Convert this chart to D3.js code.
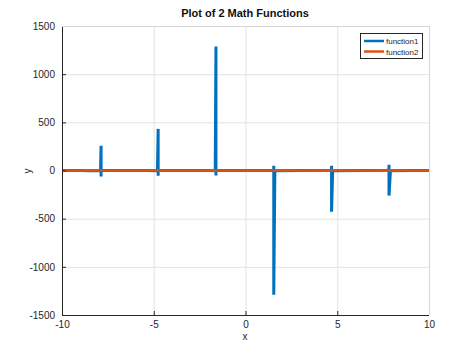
<!DOCTYPE html>
<html><head><meta charset="utf-8">
<script src="https://cdn.jsdelivr.net/npm/d3@7"></script>
<style>body{margin:0;background:#fff;}svg{display:block;font-family:"Liberation Sans",Arial,sans-serif;}</style>
</head><body><svg id="c" width="474" height="355"></svg>
<script>
const title = "Plot of 2 Math Functions";
const seriesNames = ["function1", "function2"];
const xTicks = [-10, -5, 0, 5, 10];
const yTicks = [-1500, -1000, -500, 0, 500, 1000, 1500];
// function1 samples
const x1 = [-10, -9, -8.5, -7.9, -7.87, -7.87, -7.87, -7.8, -6.5, -5.5, -4.8, -4.76, -4.76, -4.76, -4.7, -3, -2, -1.65, -1.61, -1.61, -1.61, -1.55, 0, 1.5, 1.54, 1.54, 1.54, 1.6, 3, 4.6, 4.69, 4.69, 4.69, 4.75, 6.5, 7.7, 7.82, 7.82, 7.82, 7.9, 9, 10];
const y1 = [0.6, 0.5, -1.5, -3, 256, -62, -3, 2, 0.2, -0.8, -3, 432, -55, -3, 2, 0.1, -1, -3, 1288, -52, -3, 2, 0, 2, 3, 49, -1290, -3, -0.1, 2, 3, 49, -429, -3, -0.2, 2, 3, 59, -260, -3, -0.5, 0.6];
// function2 samples
const x2 = [-10, -5, 0, 5, 10];
const y2 = [0, 0, 0, 0, 0];
const colors = ["#0072bd", "#d95319"];

const svg = d3.select("#c");
const L = 62, R = 429, T = 26, B = 315;
const x = d3.scaleLinear().domain([-10, 10]).range([L, R]);
const y = d3.scaleLinear().domain([-1500, 1500]).range([B, T]);

// grid
const g = svg.append("g");
g.selectAll(".gx").data(xTicks).enter().append("line")
  .attr("x1", d => x(d) + 0.5).attr("x2", d => x(d) + 0.5).attr("y1", T).attr("y2", B)
  .attr("stroke", "#e3e3e3").attr("stroke-width", 1);
g.selectAll(".gy").data(yTicks).enter().append("line")
  .attr("y1", d => y(d) + 0.5).attr("y2", d => y(d) + 0.5).attr("x1", L).attr("x2", R)
  .attr("stroke", "#e3e3e3").attr("stroke-width", 1);

// lines
const line = d3.line().x(d => x(d[0])).y(d => y(d[1]));
svg.append("path").datum(x1.map((v, i) => [v, y1[i]]))
  .attr("d", line).attr("fill", "none").attr("stroke", colors[0]).attr("stroke-width", 3)
  .attr("stroke-linejoin", "miter");
svg.append("path").datum(x2.map((v, i) => [v, y2[i]]))
  .attr("d", line).attr("fill", "none").attr("stroke", colors[1]).attr("stroke-width", 2.5);

// axes
const fmt = d => String(d);
const xAxis = d3.axisBottom(x).tickValues(xTicks).tickSize(-4).tickPadding(6).tickFormat(fmt);
const yAxis = d3.axisLeft(y).tickValues(yTicks).tickSize(-4).tickPadding(7).tickFormat(fmt);
const ax = svg.append("g").attr("transform", `translate(0,${B})`).call(xAxis);
const ay = svg.append("g").attr("transform", `translate(${L},0)`).call(yAxis);
[ax, ay].forEach(a => {
  a.select(".domain").attr("stroke", "#262626").attr("stroke-width", 1);
  a.selectAll(".tick line").attr("stroke", "#262626");
  a.selectAll(".tick text").attr("fill", "#262626").style("font-size", "10px").style("font-family", "Liberation Sans, Arial, sans-serif");
});
ay.select(".domain").attr("d", `M0.5,${T}V${B}`);
ax.select(".domain").attr("d", `M${L},0.5H${R}`);
// top/right box
svg.append("line").attr("x1", L).attr("x2", R).attr("y1", T + 0.5).attr("y2", T + 0.5).attr("stroke", "#d6d6d6");
svg.append("line").attr("x1", R + 0.5).attr("x2", R + 0.5).attr("y1", T).attr("y2", B).attr("stroke", "#d6d6d6");

// labels
svg.append("text").attr("x", 245).attr("y", 17).attr("text-anchor", "middle")
  .style("font-size", "11px").style("font-weight", "bold").attr("fill", "#111").text(title);
svg.append("text").attr("x", 245).attr("y", 340).attr("text-anchor", "middle")
  .style("font-size", "10px").attr("fill", "#262626").text("x");
svg.append("text").attr("transform", "translate(31,171) rotate(-90)").attr("text-anchor", "middle")
  .style("font-size", "10px").attr("fill", "#262626").text("y");

// legend
const lg = svg.append("g");
lg.append("rect").attr("x", 360.5).attr("y", 33.5).attr("width", 62).attr("height", 25)
  .attr("fill", "#fff").attr("stroke", "#262626").attr("stroke-width", 1);
seriesNames.forEach((n, i) => {
  const yy = 41 + i * 10.5;
  lg.append("line").attr("x1", 364).attr("x2", 384).attr("y1", yy).attr("y2", yy)
    .attr("stroke", colors[i]).attr("stroke-width", 2.5);
  lg.append("text").attr("x", 386).attr("y", yy + 3).style("font-size", "8px").attr("fill", "#262626").text(n);
});
</script></body></html>
